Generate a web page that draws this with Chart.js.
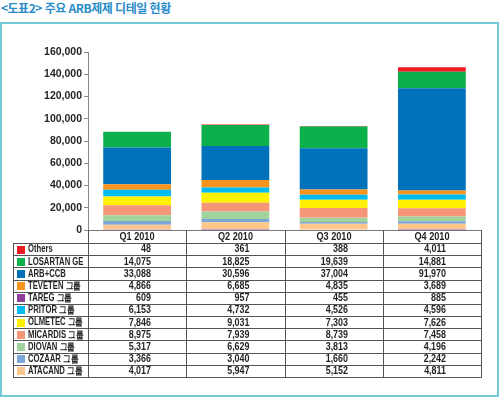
<!DOCTYPE html>
<html lang="ko">
<head>
<meta charset="utf-8">
<title>주요 ARB제제 디테일 현황</title>
<script src="https://cdn.jsdelivr.net/npm/chart.js@4/dist/chart.umd.min.js"></script>
<style>
  html, body { margin: 0; padding: 0; background: #fff; }
  #wrap { position: relative; width: 499px; height: 397px; overflow: hidden; }
  #title {
    position: absolute; left: 1px; top: 0px;
    font: bold 12px "Noto Sans CJK KR", sans-serif;
    letter-spacing: -0.5px;
    color: #2a8cc8;
    line-height: 16px;
  }
  #frame {
    position: absolute; left: 0; top: 22px; width: 495px; height: 371px;
    border: 2px solid #74c8d8;
  }
  canvas { position: absolute; left: 0; top: 0; }
</style>
</head>
<body>
<div id="wrap">
  <div id="title">&lt;도표2&gt; 주요 ARB제제 디테일 현황</div>
  <div id="frame"></div>
  <canvas id="chart" width="499" height="397"></canvas>
</div>
<script>
  // quarters
  const categories = ["Q1 2010", "Q2 2010", "Q3 2010", "Q4 2010"];

  // detailing counts per product group
  const others = [48, 361, 388, 4011];
  const losartanGe = [14075, 18825, 19639, 14881];
  const arbCcb = [33088, 30596, 37004, 91970];
  const teveten = [4866, 6685, 4835, 3689];
  const tareg = [609, 957, 455, 885];
  const pritor = [6153, 4732, 4526, 4596];
  const olmetec = [7846, 9031, 7303, 7626];
  const micardis = [8975, 7939, 8739, 7458];
  const diovan = [5317, 6629, 3813, 4196];
  const cozaar = [3366, 3040, 1660, 2242];
  const atacand = [4017, 5947, 5152, 4811];

  // y axis ticks
  const yMax = 160000;
  const yStep = 20000;

  // series, bottom of the stack first
  const series = [
    { label: "TAREG 그룹", data: tareg, color: "#8b3f96" },
    { label: "ATACAND 그룹", data: atacand, color: "#fdc68a" },
    { label: "COZAAR 그룹", data: cozaar, color: "#7da7d9" },
    { label: "DIOVAN 그룹", data: diovan, color: "#a1d39d" },
    { label: "MICARDIS 그룹", data: micardis, color: "#f69679" },
    { label: "OLMETEC 그룹", data: olmetec, color: "#fff200" },
    { label: "PRITOR 그룹", data: pritor, color: "#00bbf0" },
    { label: "TEVETEN 그룹", data: teveten, color: "#f7941d" },
    { label: "ARB+CCB", data: arbCcb, color: "#0071bb" },
    { label: "LOSARTAN GE", data: losartanGe, color: "#0db14b" },
    { label: "Others", data: others, color: "#ed1c24" },
  ];

  // row order of the data table
  const tableRows = [
    "Others", "LOSARTAN GE", "ARB+CCB", "TEVETEN 그룹", "TAREG 그룹",
    "PRITOR 그룹", "OLMETEC 그룹", "MICARDIS 그룹", "DIOVAN 그룹",
    "COZAAR 그룹", "ATACAND 그룹",
  ];

  const textFont = '"Liberation Sans", Arial, sans-serif';
  const fmt = (v) => v.toLocaleString("en-US");

  // the source uses a condensed face, so squeeze the text horizontally
  function narrowText(ctx, text, x, y, align, sx) {
    ctx.save();
    ctx.translate(x, y);
    ctx.scale(sx, 1);
    ctx.textAlign = align;
    ctx.fillText(text, 0, 0);
    ctx.restore();
  }

  const dataTable = {
    id: "dataTable",
    afterDraw(chart) {
      const ctx = chart.ctx;
      const xs = chart.scales.x;
      const area = chart.chartArea;
      const n = categories.length;

      const bounds = [area.left];
      for (let i = 1; i < n; i++) {
        bounds.push(Math.round((xs.getPixelForTick(i - 1) + xs.getPixelForTick(i)) / 2));
      }
      bounds.push(area.right);

      const top = area.bottom;
      const headBottom = 243;
      const rowH = 12.18;
      const labelLeft = 13;
      const bottom = headBottom + rowH * tableRows.length;

      ctx.save();
      ctx.lineWidth = 1;

      // header row frame
      ctx.strokeStyle = "#777";
      ctx.beginPath();
      ctx.moveTo(area.left, Math.round(top) + 0.5);
      ctx.lineTo(area.right + 0.5, Math.round(top) + 0.5);
      ctx.stroke();

      // row lines
      ctx.strokeStyle = "#555";
      ctx.beginPath();
      for (let i = 0; i <= tableRows.length; i++) {
        const y = Math.round(headBottom + i * rowH) + 0.5;
        ctx.moveTo(labelLeft, y);
        ctx.lineTo(area.right + 0.5, y);
      }
      ctx.moveTo(labelLeft + 0.5, headBottom);
      ctx.lineTo(labelLeft + 0.5, Math.round(bottom) + 0.5);
      bounds.forEach((b) => {
        ctx.moveTo(Math.round(b) + 0.5, top);
        ctx.lineTo(Math.round(b) + 0.5, Math.round(bottom) + 0.5);
      });
      ctx.stroke();

      ctx.fillStyle = "#231f20";
      ctx.textBaseline = "middle";

      // header labels
      ctx.font = "bold 10.5px " + textFont;
      categories.forEach((c, i) => {
        narrowText(ctx, c, (bounds[i] + bounds[i + 1]) / 2, (top + headBottom) / 2 + 1, "center", 0.87);
      });

      // rows
      tableRows.forEach((name, r) => {
        const s = series.find((d) => d.label === name);
        const yMid = headBottom + r * rowH + rowH / 2 + 0.5;

        ctx.fillStyle = s.color;
        ctx.fillRect(labelLeft + 4, Math.round(yMid - 4), 8, 8);

        ctx.fillStyle = "#231f20";
        ctx.font = "bold 10px " + textFont;
        narrowText(ctx, name, labelLeft + 15, yMid, "left", 0.77);

        ctx.font = "bold 10.5px " + textFont;
        s.data.forEach((v, i) => {
          narrowText(ctx, fmt(v), (bounds[i] + bounds[i + 1]) / 2 + 14, yMid, "right", 0.85);
        });
      });
      ctx.restore();
    },
  };

  new Chart(document.getElementById("chart"), {
    type: "bar",
    data: {
      labels: categories,
      datasets: series.map((s) => ({
        label: s.label,
        data: s.data,
        backgroundColor: s.color,
        borderWidth: 0,
      })),
    },
    options: {
      responsive: false,
      animation: false,
      layout: { padding: { top: 52, right: 18, bottom: 167, left: 0 } },
      datasets: { bar: { barPercentage: 0.69, categoryPercentage: 1 } },
      plugins: {
        legend: { display: false },
        tooltip: { enabled: false },
      },
      scales: {
        x: { stacked: true, display: false },
        y: {
          stacked: true,
          min: 0,
          max: yMax,
          afterFit(scale) {
            scale.width = 88;
          },
          ticks: {
            stepSize: yStep,
            padding: 2,
            color: "#231f20",
            font: { family: '"Liberation Sans", sans-serif', size: 10.5, weight: "bold" },
            callback: (v) => fmt(v),
          },
          grid: { drawOnChartArea: false, tickLength: 4, color: "#888" },
          border: { color: "#888" },
        },
      },
    },
    plugins: [dataTable],
  });
</script>
</body>
</html>
